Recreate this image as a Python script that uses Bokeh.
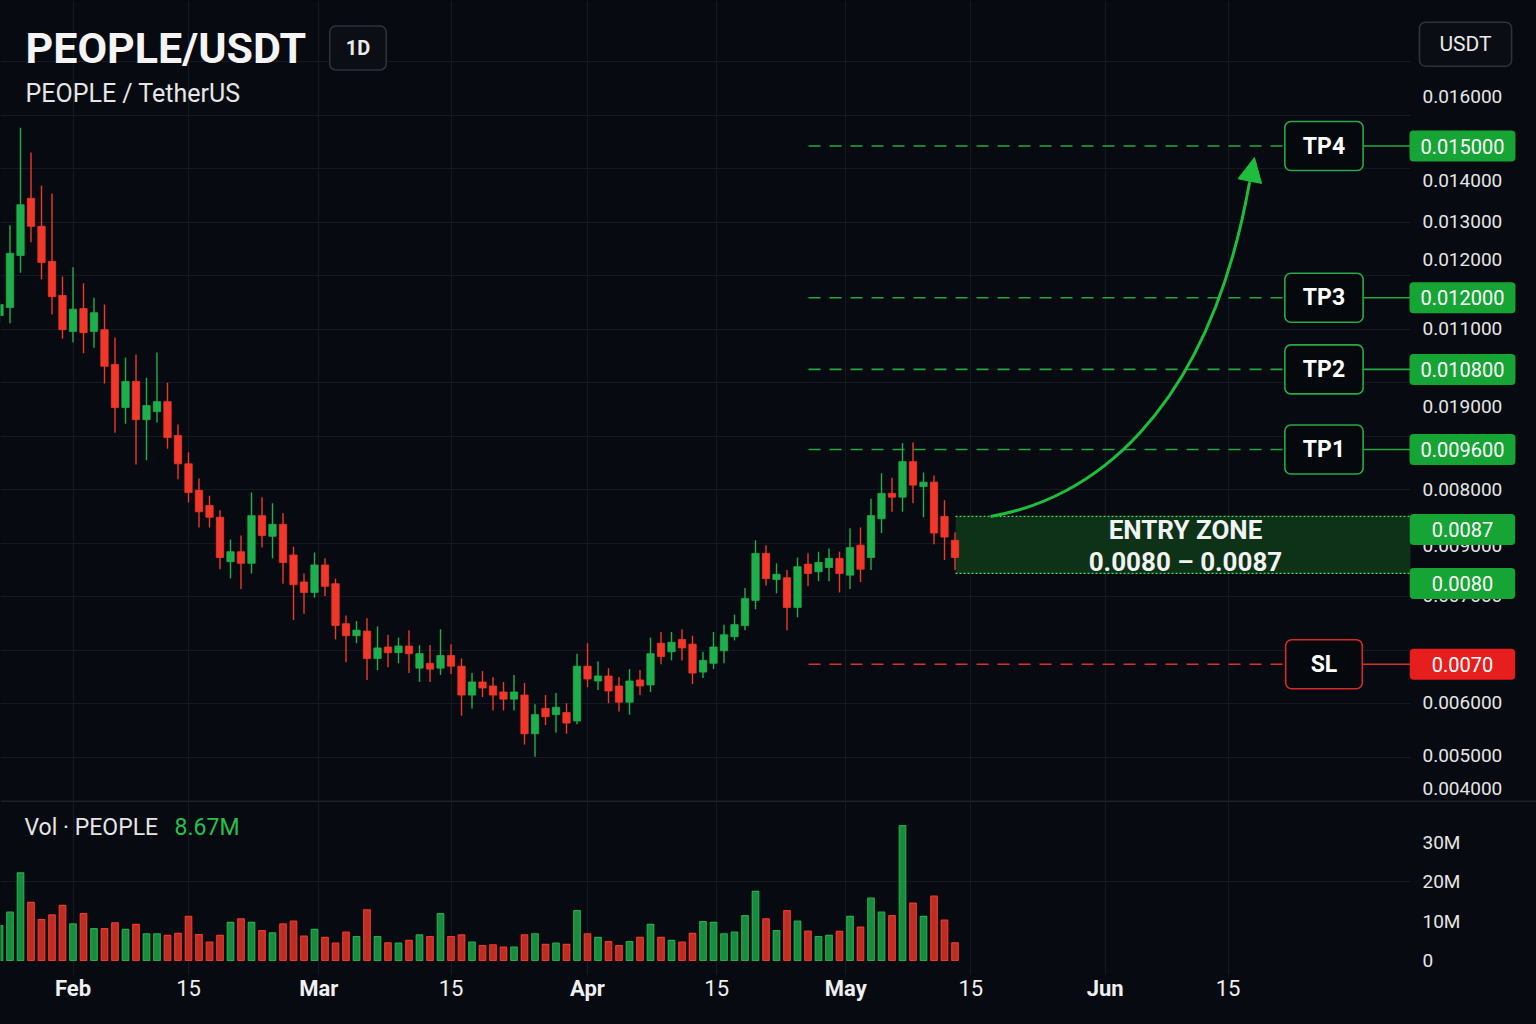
from bokeh.plotting import figure
from bokeh.layouts import column
from bokeh.models import (ColumnDataSource, Range1d, FixedTicker,
                          LinearAxis, Grid, Label, Span, Arrow, NormalHead, LinearScale)
from bokeh.core.properties import value
from bokeh.embed import file_html
from bokeh.resources import INLINE

# ---------------- data ----------------
opens = [0.01169, 0.01183, 0.01277, 0.01389, 0.01333, 0.01266, 0.01204, 0.01142, 0.01181, 0.01142,
         0.01145, 0.01088, 0.01021, 0.01061, 0.01003, 0.01015, 0.01030, 0.00980, 0.00940, 0.00904,
         0.00884, 0.00869, 0.00814, 0.00826, 0.00812, 0.00871, 0.00845, 0.00860, 0.00822, 0.00790,
         0.00778, 0.00810, 0.00788, 0.00743, 0.00730, 0.00735, 0.00706, 0.00718, 0.00712, 0.00719,
         0.00696, 0.00701, 0.00696, 0.00709, 0.00698, 0.00669, 0.00682, 0.00678, 0.00672, 0.00665,
         0.00669, 0.00632, 0.00656, 0.00650, 0.00652, 0.00644, 0.00698, 0.00683, 0.00688, 0.00678,
         0.00662, 0.00684, 0.00679, 0.00722, 0.00713, 0.00726, 0.00721, 0.00692, 0.00701, 0.00714,
         0.00729, 0.00741, 0.00769, 0.00824, 0.00793, 0.00795, 0.00761, 0.00811, 0.00802, 0.00807,
         0.00818, 0.00798, 0.00834, 0.00819, 0.00867, 0.00900, 0.00895, 0.00943, 0.00909, 0.00915,
         0.00870, 0.00840]
highs = [0.01195, 0.01335, 0.01541, 0.01486, 0.01415, 0.01399, 0.01238, 0.01255, 0.01226, 0.01200,
         0.01188, 0.01132, 0.01099, 0.01104, 0.01067, 0.01107, 0.01059, 0.00996, 0.00956, 0.00920,
         0.00897, 0.00878, 0.00841, 0.00846, 0.00901, 0.00895, 0.00887, 0.00874, 0.00832, 0.00800,
         0.00825, 0.00818, 0.00794, 0.00752, 0.00746, 0.00749, 0.00740, 0.00731, 0.00728, 0.00736,
         0.00720, 0.00720, 0.00737, 0.00721, 0.00706, 0.00691, 0.00693, 0.00687, 0.00682, 0.00689,
         0.00681, 0.00660, 0.00669, 0.00671, 0.00661, 0.00711, 0.00722, 0.00703, 0.00696, 0.00687,
         0.00695, 0.00694, 0.00728, 0.00734, 0.00734, 0.00737, 0.00730, 0.00713, 0.00734, 0.00742,
         0.00753, 0.00783, 0.00840, 0.00834, 0.00812, 0.00804, 0.00819, 0.00824, 0.00826, 0.00830,
         0.00826, 0.00855, 0.00856, 0.00893, 0.00927, 0.00921, 0.00969, 0.00970, 0.00928, 0.00924,
         0.00891, 0.00850]
lows = [0.01157, 0.01156, 0.01245, 0.01302, 0.01233, 0.01171, 0.01130, 0.01124, 0.01106, 0.01115,
        0.01058, 0.00984, 0.00997, 0.00939, 0.00945, 0.00999, 0.00961, 0.00919, 0.00888, 0.00856,
        0.00856, 0.00805, 0.00794, 0.00782, 0.00800, 0.00831, 0.00818, 0.00788, 0.00747, 0.00754,
        0.00772, 0.00774, 0.00726, 0.00702, 0.00722, 0.00684, 0.00694, 0.00697, 0.00701, 0.00691,
        0.00682, 0.00682, 0.00689, 0.00690, 0.00649, 0.00656, 0.00667, 0.00654, 0.00654, 0.00654,
        0.00622, 0.00611, 0.00640, 0.00633, 0.00632, 0.00641, 0.00677, 0.00674, 0.00661, 0.00653,
        0.00650, 0.00669, 0.00672, 0.00700, 0.00704, 0.00704, 0.00680, 0.00686, 0.00695, 0.00701,
        0.00725, 0.00736, 0.00759, 0.00786, 0.00777, 0.00736, 0.00750, 0.00785, 0.00791, 0.00791,
        0.00778, 0.00782, 0.00790, 0.00804, 0.00849, 0.00876, 0.00876, 0.00887, 0.00869, 0.00835,
        0.00816, 0.00804]
closes = [0.01188, 0.01281, 0.01376, 0.01333, 0.01264, 0.01202, 0.01145, 0.01180, 0.01140, 0.01174,
          0.01085, 0.01021, 0.01061, 0.01003, 0.01024, 0.01030, 0.00977, 0.00940, 0.00901, 0.00876,
          0.00869, 0.00819, 0.00826, 0.00812, 0.00871, 0.00846, 0.00860, 0.00813, 0.00787, 0.00778,
          0.00810, 0.00785, 0.00741, 0.00730, 0.00736, 0.00706, 0.00717, 0.00712, 0.00719, 0.00711,
          0.00711, 0.00695, 0.00709, 0.00698, 0.00669, 0.00682, 0.00676, 0.00669, 0.00665, 0.00672,
          0.00632, 0.00650, 0.00648, 0.00657, 0.00642, 0.00698, 0.00685, 0.00688, 0.00673, 0.00662,
          0.00683, 0.00678, 0.00711, 0.00708, 0.00723, 0.00717, 0.00691, 0.00704, 0.00718, 0.00731,
          0.00742, 0.00771, 0.00824, 0.00794, 0.00799, 0.00761, 0.00808, 0.00800, 0.00813, 0.00818,
          0.00800, 0.00831, 0.00805, 0.00871, 0.00900, 0.00895, 0.00943, 0.00911, 0.00915, 0.00849,
          0.00844, 0.00819]
volumes_m = [8.9, 12.3, 22.3, 14.8, 10.4, 11.6, 14.0, 9.3, 11.9, 8.1,
             8.1, 9.6, 7.9, 9.2, 6.8, 6.8, 6.4, 6.9, 11.2, 6.6,
             4.7, 6.4, 9.7, 10.6, 9.7, 7.6, 7.0, 9.3, 10.0, 6.2,
             7.9, 5.9, 4.4, 7.2, 6.1, 12.9, 6.1, 4.5, 4.4, 5.1,
             6.5, 6.1, 11.9, 6.1, 6.5, 4.7, 3.8, 4.0, 3.4, 3.4,
             6.5, 6.8, 4.1, 4.4, 4.1, 12.7, 6.8, 5.9, 4.8, 3.8,
             4.8, 5.9, 9.2, 5.9, 5.1, 4.7, 6.9, 9.9, 9.7, 6.8,
             7.2, 11.4, 17.6, 10.6, 7.6, 12.7, 10.0, 7.5, 6.1, 6.4,
             7.4, 11.2, 8.5, 15.9, 12.3, 11.4, 34.3, 14.6, 11.2, 16.4,
             10.3, 4.5]

month_tick_pos = [7.0, 30.4, 56.0, 80.6, 105.3]
month_tick_labels = ["Feb", "Mar", "Apr", "May", "Jun"]
day_tick_pos = [18.0, 43.0, 68.3, 92.5, 117.0]
day_tick_labels = ["15", "15", "15", "15", "15"]

price_tick_pos = [0.01614, 0.01426, 0.01342, 0.01270, 0.01147, 0.01023,
                  0.00905, 0.00834, 0.00774, 0.00662, 0.00612, 0.00583]
price_tick_labels = ["0.016000", "0.014000", "0.013000", "0.012000", "0.011000", "0.019000",
                     "0.008000", "0.009000", "0.007000", "0.006000", "0.005000", "0.004000"]

vol_tick_pos = [0, 10, 20, 30]
vol_tick_labels = ["0", "10M", "20M", "30M"]

tp_names = ["TP4", "TP3", "TP2", "TP1"]
tp_values = [0.0150, 0.0120, 0.0108, 0.0096]
tp_tags = ["0.015000", "0.012000", "0.010800", "0.009600"]
sl_value = 0.0070
sl_tag = "0.0070"
entry_low, entry_high = 0.0080, 0.0087
entry_tags = ["0.0080", "0.0087"]
last_volume_text = "8.67M"

# ---------------- style / layout constants ----------------
FONT = "Roboto"
BG = "#070a10"
GRID = "#141922"
GREEN = "#1fae4c"
RED = "#f0372a"
LEVEL_GREEN = "#26a83e"
TAG_GREEN = "#16a535"
TAG_RED = "#e61e1e"
ARROW_GREEN = "#1ebe3c"
TEXT = "#e6e6e6"

X_START, X_END = 0.0952, 146.38      # whole canvas width
FRAME_R = 134.38                     # where the price scale begins
Y_LOW, Y_HIGH = 0.005729, 0.01858
LINE_X0 = 77.05
BOX_L, BOX_C, BOX_R = 122.48, 126.14, 129.81
TAG_X = 139.33
ENTRY_L = 91.05

n = len(opens)
idx = list(range(n))
up = [c >= o for o, c in zip(opens, closes)]
src = ColumnDataSource(dict(
    x=idx, high=highs, low=lows,
    top=[max(o, c) for o, c in zip(opens, closes)],
    bottom=[min(o, c) for o, c in zip(opens, closes)],
    color=[GREEN if u else RED for u in up],
    vol=volumes_m,
))


def style_value_axis(ax):
    ax.fixed_location = FRAME_R
    ax.axis_line_color = None
    ax.major_tick_line_color = None
    ax.minor_tick_line_color = None
    ax.major_tick_out = 0
    ax.major_tick_in = 0
    ax.major_label_standoff = 12
    ax.major_label_text_color = TEXT
    ax.major_label_text_font = FONT
    ax.major_label_text_font_size = "19px"


# ---------------- price panel ----------------
p1 = figure(width=1536, height=800, x_range=Range1d(X_START, X_END),
            y_range=Range1d(Y_LOW, Y_HIGH), y_axis_type="log",
            x_axis_location=None, y_axis_location="right",
            output_backend="svg", toolbar_location=None,
            background_fill_color=BG, border_fill_color=BG, outline_line_color=None,
            min_border_left=0, min_border_top=0, min_border_bottom=0, min_border_right=0)
p1.grid.visible = False
p1.extra_y_ranges = {"grid": Range1d(-0.804, 14.149)}
p1.extra_y_scales = {"grid": LinearScale()}
p1.add_layout(Grid(dimension=1, y_range_name="grid", ticker=FixedTicker(ticks=list(range(14))),
                   grid_line_color=GRID, grid_line_width=1))
p1.add_layout(Grid(dimension=0, ticker=FixedTicker(ticks=month_tick_pos + day_tick_pos),
                   grid_line_color=GRID, grid_line_width=1))
# plain background behind the price scale
p1.quad(left=FRAME_R, right=X_END + 5, bottom=Y_LOW * 0.8, top=Y_HIGH * 1.2,
        fill_color=BG, line_color=None)

ya = p1.yaxis[0]
ya.ticker = FixedTicker(ticks=price_tick_pos)
ya.major_label_overrides = {v: s for v, s in zip(price_tick_pos, price_tick_labels)}
style_value_axis(ya)

# entry zone
p1.quad(left=ENTRY_L, right=FRAME_R, bottom=entry_low, top=entry_high,
        fill_color="#0e3519", fill_alpha=0.95, line_color=None)
p1.segment(x0=[ENTRY_L, ENTRY_L], x1=[FRAME_R, FRAME_R],
           y0=[entry_low, entry_high], y1=[entry_low, entry_high],
           line_color="#52d860", line_width=1.3, line_dash="2 2")

# candles
p1.segment(x0="x", y0="high", x1="x", y1="low", line_color="color", line_width=1.4, source=src)
p1.vbar(x="x", width=0.7, top="top", bottom="bottom", fill_color="color",
        line_color="color", line_width=0.8, source=src)

# level lines
k = len(tp_values)
p1.segment(x0=[LINE_X0] * k, x1=[BOX_L] * k, y0=tp_values, y1=tp_values,
           line_color=LEVEL_GREEN, line_width=1.6, line_dash="12 9")
p1.segment(x0=[BOX_R] * k, x1=[FRAME_R] * k, y0=tp_values, y1=tp_values,
           line_color=LEVEL_GREEN, line_width=1.6)
p1.segment(x0=[LINE_X0], x1=[BOX_L], y0=[sl_value], y1=[sl_value],
           line_color="#d9302c", line_width=1.6, line_dash="12 9")
p1.segment(x0=[BOX_R], x1=[FRAME_R], y0=[sl_value], y1=[sl_value],
           line_color="#d9302c", line_width=1.6)

# curved arrow from entry zone to TP4
p1.bezier(x0=[94.38], y0=[entry_high], x1=[119.05], y1=[0.014216],
          cx0=[103.5], cy0=[0.008907], cx1=[115.0], cy1=[0.010018],
          line_color=ARROW_GREEN, line_width=3)
p1.add_layout(Arrow(end=NormalHead(size=24, fill_color=ARROW_GREEN, line_color=ARROW_GREEN),
                    x_start=119.05, y_start=0.014216, x_end=119.52, y_end=0.014748,
                    line_color=ARROW_GREEN, line_width=3))

entry_mid = (entry_low * entry_high) ** 0.5
p1.text(x=[112.95], y=[entry_mid], text=["ENTRY ZONE"], y_offset=-15,
        text_align="center", text_baseline="middle", text_color="#f2f2f2",
        text_font=value(FONT), text_font_size="26px", text_font_style="bold")
p1.text(x=[112.95], y=[entry_mid], text=[f"{entry_low:.4f} \u2013 {entry_high:.4f}"], y_offset=17,
        text_align="center", text_baseline="middle", text_color="#f2f2f2",
        text_font=value(FONT), text_font_size="26px", text_font_style="bold")


def box_label(p, x, y, text, size, style, fill, border, pad, color="white", radius=6, dy=0):
    p.add_layout(Label(x=x, y=y, text=text, text_align="center", text_baseline="middle",
                       text_font=FONT, text_font_size=size, text_font_style=style,
                       text_color=color, background_fill_color=fill,
                       border_line_color=border, border_line_width=1.6,
                       padding=pad, border_radius=radius, y_offset=dy))


for name, v in zip(tp_names, tp_values):
    box_label(p1, BOX_C, v, name, "23px", "bold", "#05080c", "#2aa845", (18, 11))
box_label(p1, BOX_C, sl_value, "SL", "23px", "bold", "#05080c", "#d62a2a", (25, 11))


def tag_pad(t):
    w = 11.1 * sum(ch.isdigit() for ch in t) + 5 * t.count(".")
    return (int(round((105 - w) / 2)), 8)


for t, v in zip(tp_tags, tp_values):
    box_label(p1, TAG_X, v, t, "20px", "normal", TAG_GREEN, None, tag_pad(t), radius=4)
# entry tags sit just inside the zone, as in the picture
for t, v, dy in zip(entry_tags, [entry_low, entry_high], [-10, -13]):
    box_label(p1, TAG_X, v, t, "20px", "normal", TAG_GREEN, None, tag_pad(t), radius=4, dy=dy)
box_label(p1, TAG_X, sl_value, sl_tag, "20px", "normal", TAG_RED, None, tag_pad(sl_tag), radius=4)

# header texts
p1.add_layout(Label(x=2.476, y=0.017327, text="PEOPLE/USDT", text_baseline="middle",
                    text_font=FONT, text_font_size="43px", text_font_style="bold", text_color="#f4f4f4"))
p1.add_layout(Label(x=2.476, y=0.016193, text="PEOPLE / TetherUS", text_baseline="middle",
                    text_font=FONT, text_font_size="25px", text_color=TEXT))
box_label(p1, 34.14, 0.017328, "1D", "20px", "bold", "#0b0e14", "#2d323c", (16, 10), color="#eaeaea")
box_label(p1, 139.62, 0.017423, "USDT", "21px", "normal", "#0a0d13", "#2d323c", (20, 10), color="#eaeaea")

# ---------------- volume panel ----------------
p2 = figure(width=1536, height=224, x_range=p1.x_range, y_range=Range1d(-3.82, 40.7),
            x_axis_location=None, y_axis_location="right",
            output_backend="svg", toolbar_location=None,
            background_fill_color=BG, border_fill_color=BG, outline_line_color=None,
            min_border_left=0, min_border_top=0, min_border_bottom=49, min_border_right=0)
p2.grid.visible = False
p2.add_layout(Grid(dimension=0, ticker=FixedTicker(ticks=month_tick_pos + day_tick_pos),
                   grid_line_color=GRID, grid_line_width=1))
p2.add_layout(Grid(dimension=1, ticker=FixedTicker(ticks=[20]), grid_line_color=GRID, grid_line_width=1))
p2.quad(left=FRAME_R, right=X_END + 5, bottom=-5, top=50, fill_color=BG, line_color=None)
p2.add_layout(Span(location=40.55, dimension="width", line_color="#252a33", line_width=1.5))

p2.vbar(x="x", width=0.62, top="vol", bottom=0, fill_color="color", fill_alpha=0.78,
        line_color="color", line_width=1.2, source=src)

va = p2.yaxis[0]
va.ticker = FixedTicker(ticks=vol_tick_pos)
va.major_label_overrides = {v: s for v, s in zip(vol_tick_pos, vol_tick_labels)}
style_value_axis(va)


def date_axis(pos, labels, style, standoff):
    ax = LinearAxis(ticker=FixedTicker(ticks=pos),
                    major_label_overrides={v: s for v, s in zip(pos, labels)})
    ax.axis_line_color = None
    ax.major_tick_line_color = None
    ax.minor_tick_line_color = None
    ax.major_tick_out = 0
    ax.major_tick_in = 0
    ax.major_label_standoff = standoff
    ax.major_label_text_color = "#f0f0f0"
    ax.major_label_text_font = FONT
    ax.major_label_text_font_size = "22px"
    ax.major_label_text_font_style = style
    return ax


p2.add_layout(date_axis(month_tick_pos, month_tick_labels, "bold", 0), "below")
p2.add_layout(date_axis(day_tick_pos, day_tick_labels, "normal", -24), "below")

p2.add_layout(Label(x=2.38, y=33.8, text="Vol \u00b7 PEOPLE", text_baseline="middle",
                    text_font=FONT, text_font_size="23px", text_color=TEXT))
p2.add_layout(Label(x=16.67, y=33.8, text=last_volume_text, text_baseline="middle",
                    text_font=FONT, text_font_size="23px", text_color="#27c04f"))

layout = column(p1, p2, spacing=0)
html = file_html(layout, INLINE).replace(
    "</head>", "<style>html,body{background:#070a10;}</style></head>", 1)
open("out.html", "w").write(html)
